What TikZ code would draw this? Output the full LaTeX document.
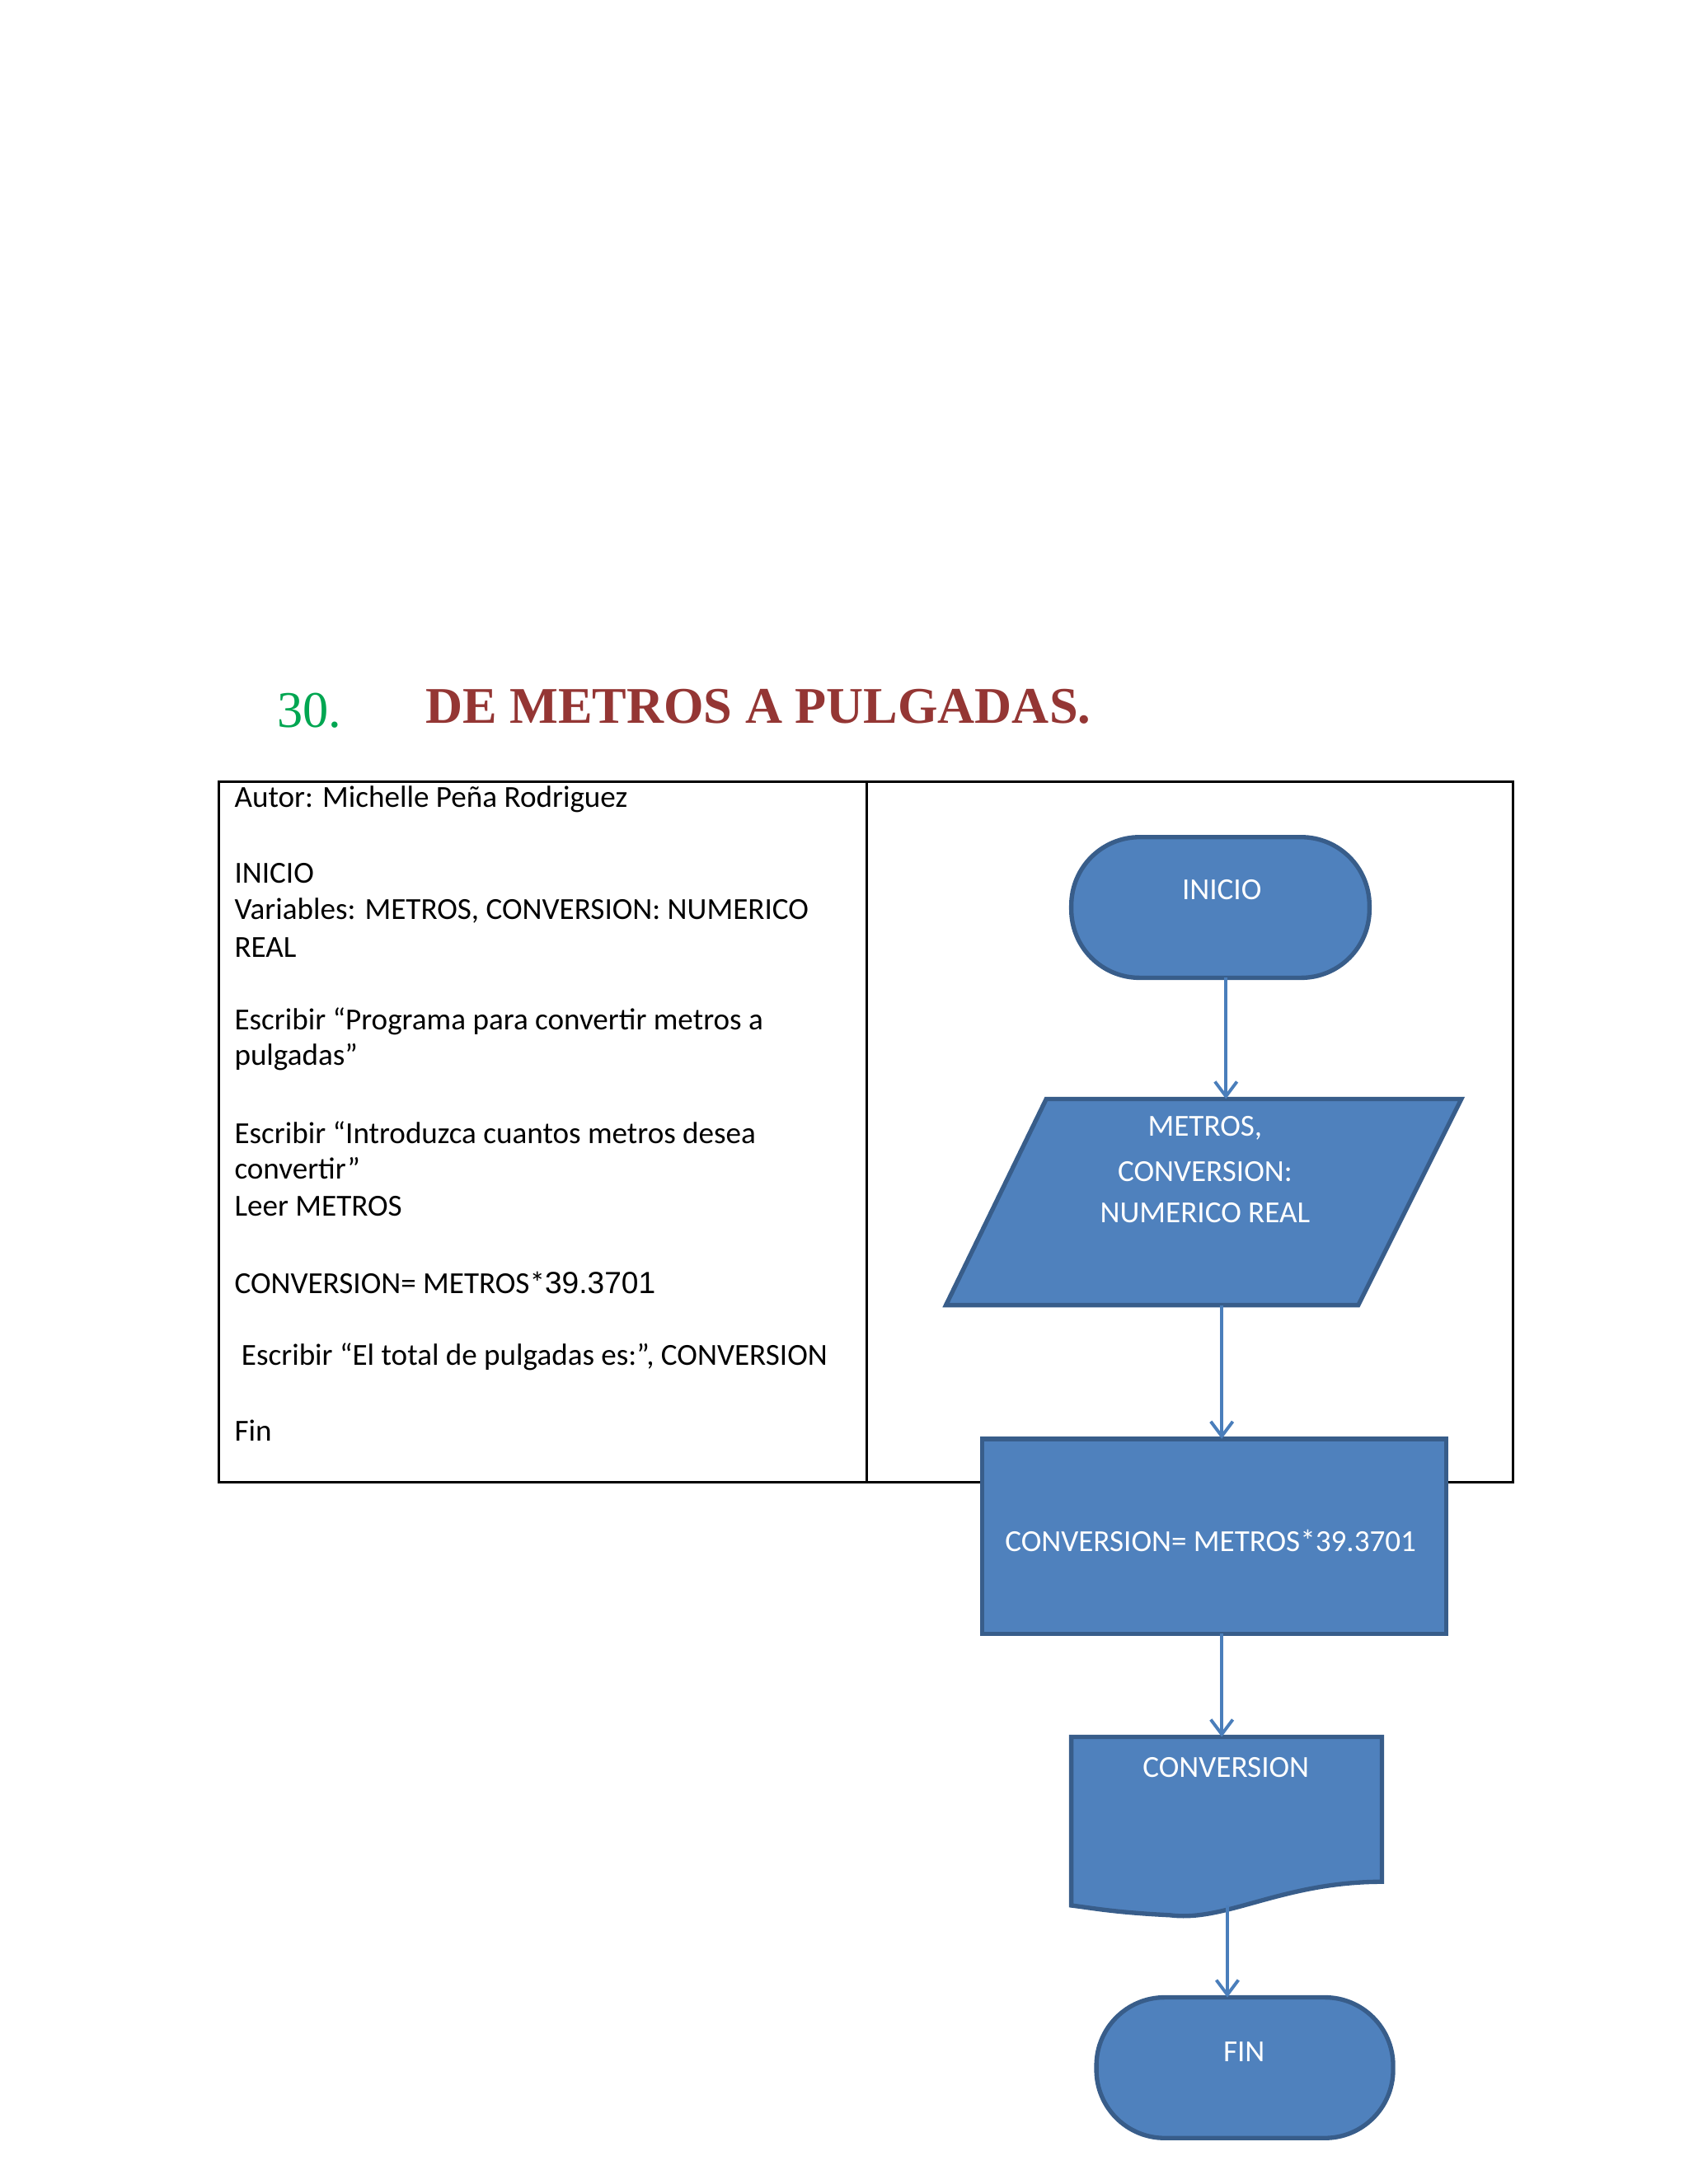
\documentclass[tikz,border=0pt]{standalone}
\usepackage{fontspec}
\setmainfont{Carlito}
\newfontfamily\titlefont{Liberation Serif}
\definecolor{fillb}{HTML}{4F81BD}
\definecolor{edgeb}{HTML}{385D8A}
\definecolor{arrb}{HTML}{4A7EBB}
\definecolor{titred}{HTML}{943634}
\definecolor{titgreen}{HTML}{00A651}
\usetikzlibrary{arrows.meta}
\begin{document}
\begin{tikzpicture}[x=0.02cm,y=-0.02cm,
  shp/.style={fill=fillb,draw=edgeb,line width=1.8pt},
  wt/.style={text=white,font=\fontsize{12.5}{15}\selectfont,align=center},
  lt/.style={anchor=west,font=\fontsize{12.5}{15}\selectfont,inner sep=0},
  arr/.style={draw=arrb,line width=1.3pt,-{Straight Barb[length=6pt,width=9pt]}}]
\useasboundingbox (0,0) rectangle (1212,1568);
% title
\node[text=titgreen,font=\titlefont\fontsize{21}{24}\selectfont] (num) at (222,510) {30.};
\node[anchor=west,text=titred,font=\titlefont\fontsize{21}{24}\selectfont\bfseries,inner sep=0] (tit) at (305,507) {DE METROS A PULGADAS.};
% table
\draw[line width=1pt] (157,561) rectangle (1086,1064);
\draw[line width=1pt] (622,561) -- (622,1064);
\node[lt] (l1) at (168,574) {Autor: Michelle Peña Rodriguez};
\node[lt] (l2) at (168,627) {INICIO};
\node[lt] (l3) at (168,654) {Variables: METROS, CONVERSION: NUMERICO};
\node[lt] (l4) at (168,680) {REAL};
\node[lt] (l5) at (168,733) {Escribir “Programa para convertir metros a};
\node[lt] (l6) at (168,759) {pulgadas”};
\node[lt] (l7) at (168,813) {Escribir “Introduzca cuantos metros desea};
\node[lt] (l8) at (168,839) {convertir”};
\node[lt] (l9) at (168,866) {Leer METROS};
\node[lt] (l10) at (168,921) {CONVERSION= METROS*{\fontspec{Liberation Sans}\fontsize{12.5}{15}\selectfont 39.3701}};
\node[lt] (l11) at (173,974) {Escribir “El total de pulgadas es:”, CONVERSION};
\node[lt] (l12) at (168,1027) {Fin};
% INICIO
\draw[shp,rounded corners=0.98cm] (769,601) rectangle (983,702);
\node[wt] (t1) at (877,639) {INICIO};
\coordinate (s1) at (880,702);
% parallelogram
\draw[shp] (751,789) -- (1049,789) -- (975,937) -- (679,937) -- cycle;
\node[wt] (t2a) at (865,810) {METROS,};
\node[wt] (t2b) at (865,841) {CONVERSION:};
\node[wt] (t2c) at (865,871) {NUMERICO REAL};
\coordinate (p1) at (880,789);
\coordinate (p2) at (877,937);
% process
\draw[shp] (705,1033) rectangle (1038,1173);
\node[wt] (t3) at (869,1106) {CONVERSION= METROS*39.3701};
\coordinate (r1) at (877,1033);
\coordinate (r2) at (877,1173);
% document
\draw[shp] (769,1247) -- (992,1247) -- (992,1351) .. controls (920,1351) and (880,1380) .. (840,1375) .. controls (800,1373) and (785,1370) .. (769,1368) -- cycle;
\node[wt] (t4) at (880,1269) {CONVERSION};
\coordinate (d1) at (877,1247);
\coordinate (d2) at (881,1368);
% FIN
\draw[shp,rounded corners=0.98cm] (787,1434) rectangle (1000,1535);
\node[wt] (t5) at (893,1473) {FIN};
\coordinate (f1) at (881,1434);
% arrows
\draw[arr] (s1) -- (p1);
\draw[arr] (p2) -- (r1);
\draw[arr] (r2) -- (d1);
\draw[arr] (d2) -- (f1);
\end{tikzpicture}
\end{document}
